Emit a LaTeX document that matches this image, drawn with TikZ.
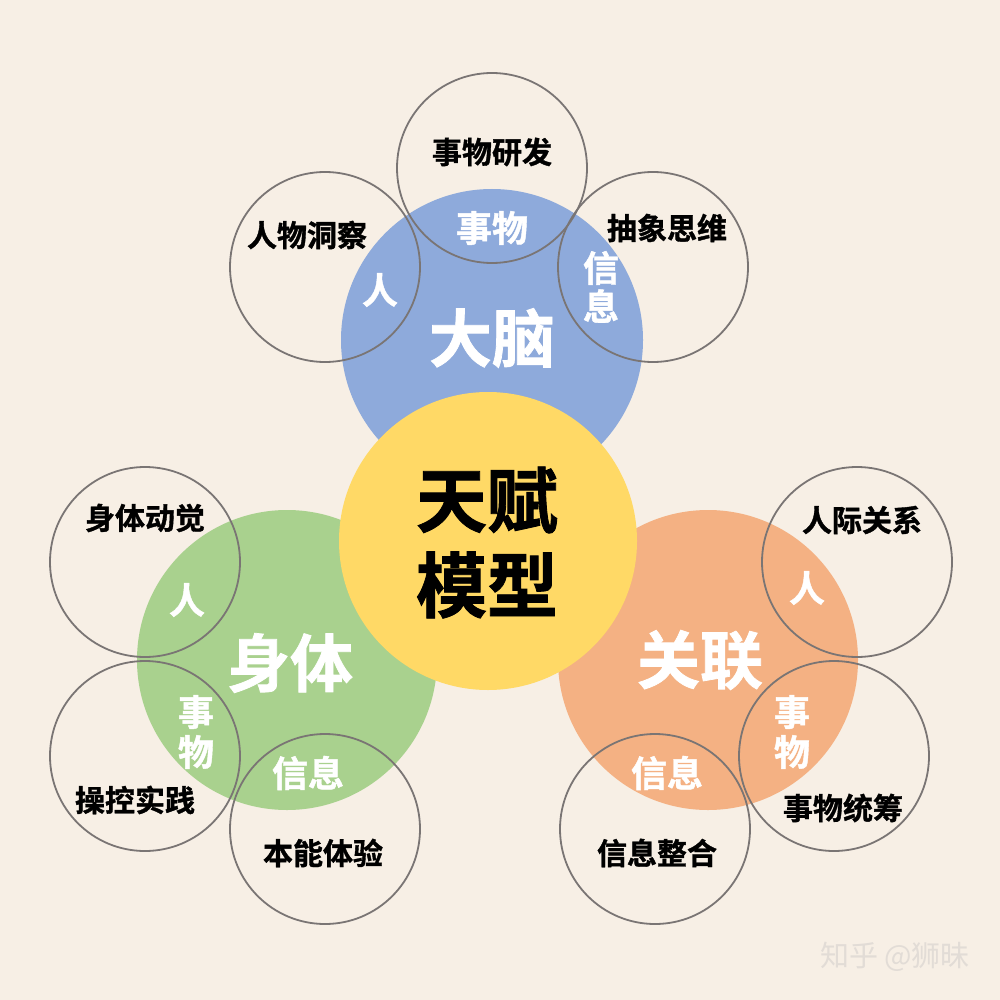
\documentclass[tikz,border=0pt]{standalone}
\usepackage{fontspec}
\newfontfamily\cjk{Noto Sans CJK SC}[BoldFont={* Bold},BoldFeatures={FakeBold=1.2}]
\definecolor{bg}{HTML}{F7EFE5}
\definecolor{cblue}{HTML}{8EAADB}
\definecolor{cgreen}{HTML}{A9D18E}
\definecolor{corange}{HTML}{F4B183}
\definecolor{cyellow}{HTML}{FFD966}
\definecolor{cline}{HTML}{7A7574}
\definecolor{cwm}{HTML}{E2DCD6}
\begin{document}
\begin{tikzpicture}[x=1pt,y=-1pt,
  big/.style={circle,inner sep=0pt,minimum size=302pt,draw=none},
  ring/.style={circle,inner sep=0pt,minimum size=190pt,draw=cline,line width=1.8pt},
  outer/.style={inner sep=0pt,font=\cjk\bfseries\fontsize{30}{34}\selectfont,text=black},
  inner/.style={inner sep=0pt,font=\cjk\bfseries\fontsize{36}{40}\selectfont,text=white},
  title/.style={inner sep=0pt,font=\cjk\bfseries\fontsize{63}{70}\selectfont,text=white},
  core/.style={inner sep=0pt,font=\cjk\bfseries\fontsize{71}{80}\selectfont,text=black}]
\fill[bg] (0,0) rectangle (1000,1000);
\useasboundingbox (0,0) rectangle (1000,1000);
% large circles
\node[big,fill=cblue] (brain) at (492,340) {};
\node[big,fill=cgreen,minimum size=300pt] (body) at (287,660) {};
\node[big,fill=corange,minimum size=300pt] (link) at (708,660) {};
\node[big,fill=cyellow,minimum size=298pt] (core) at (488,541) {};
% rings
\node[ring] (r1) at (492,168) {};
\node[ring] (r2) at (325,267) {};
\node[ring] (r3) at (653,267) {};
\node[ring] (r4) at (145,562) {};
\node[ring] (r5) at (145,756) {};
\node[ring] (r6) at (325,829) {};
\node[ring] (r7) at (857,562) {};
\node[ring] (r8) at (834,756) {};
\node[ring] (r9) at (655,829) {};
% outer labels
\node[outer] (t1) at (492,152) {事物研发};
\node[outer] (t2) at (307,235) {人物洞察};
\node[outer] (t3) at (667,228) {抽象思维};
\node[outer] (t4) at (145,518) {身体动觉};
\node[outer] (t5) at (135,800) {操控实践};
\node[outer] (t6) at (323,853) {本能体验};
\node[outer] (t7) at (862,520) {人际关系};
\node[outer] (t8) at (843,808) {事物统筹};
\node[outer] (t9) at (657,853) {信息整合};
% inner white labels
\node[inner] (i1) at (492,228) {事物};
\node[inner] (i2) at (380,290) {人};
\node[inner] (i3a) at (601,268) {信};
\node[inner] (i3b) at (601,306) {息};
\node[inner] (i4) at (187,600) {人};
\node[inner] (i5a) at (196,712) {事};
\node[inner] (i5b) at (196,752) {物};
\node[inner] (i6) at (308,773) {信息};
\node[inner] (i7) at (807,588) {人};
\node[inner] (i8a) at (792,712) {事};
\node[inner] (i8b) at (792,752) {物};
\node[inner] (i9) at (667,773) {信息};
% titles
\node[title] (n1) at (492,338) {大脑};
\node[title] (n2) at (290,663) {身体};
\node[title] (n3) at (700,660) {关联};
\node[core] (c1) at (487,500) {天赋};
\node[core] (c2) at (487,585) {模型};
% watermark
\node[inner sep=0pt,font=\cjk\fontsize{29}{34}\selectfont,text=cwm] (wm) at (895,957) {知乎 @狮昧};
\end{tikzpicture}
\end{document}
